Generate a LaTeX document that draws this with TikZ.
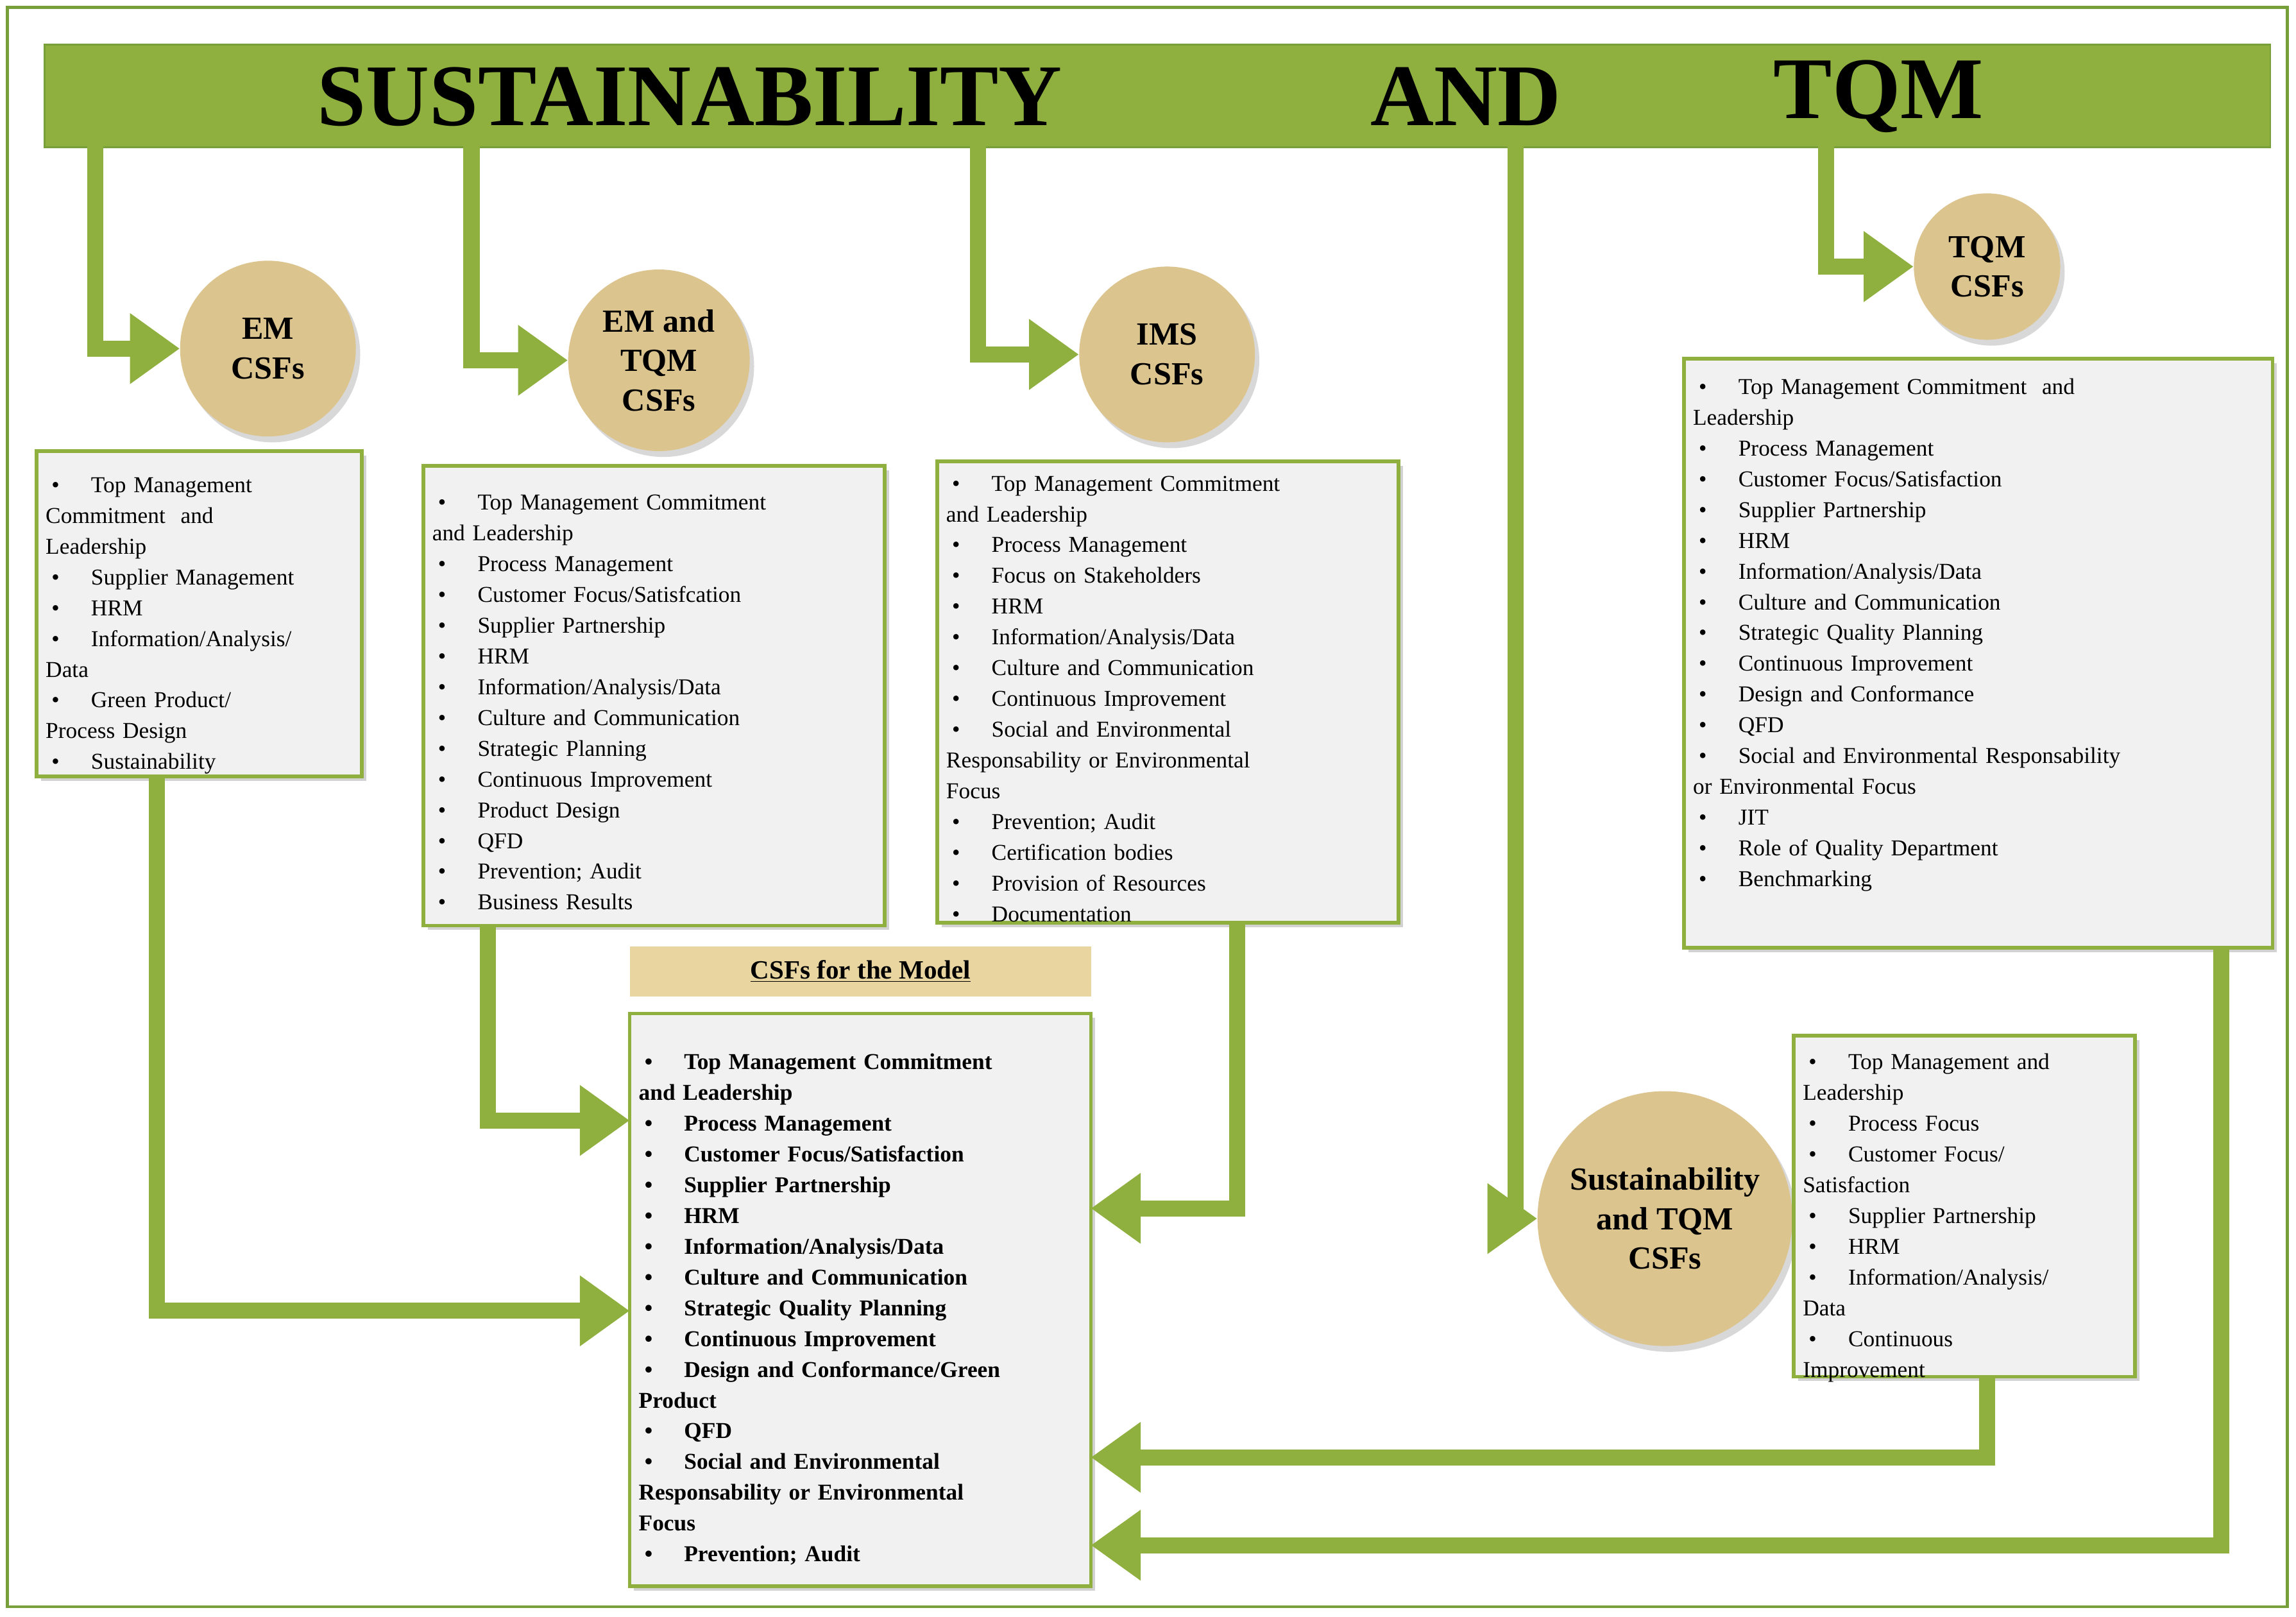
\documentclass[tikz,border=0pt]{standalone}
\usepackage{fontspec}
\setmainfont{Liberation Serif}
\usetikzlibrary{arrows.meta,shadows}
\definecolor{grn}{HTML}{8FB03E}
\definecolor{grnd}{HTML}{77A03A}
\definecolor{tan}{HTML}{DCC48E}
\definecolor{tanl}{HTML}{E8D5A0}
\definecolor{boxf}{HTML}{F1F1F1}
\newcommand{\itm}[1]{\par\noindent\hangindent=31pt\hangafter=1\makebox[31pt][l]{\hspace{4pt}\textbullet}#1}
\tikzset{
 flow/.style={draw=grn,line width=11pt,-{Triangle[length=34pt,width=46pt]}},
 listbox/.style={draw=grn,line width=2.5pt,fill=boxf,drop shadow={opacity=0.35,shadow xshift=3pt,shadow yshift=-3pt}},
 listtxt/.style={anchor=north west,inner sep=0pt,text width=300pt,font=\fontsize{15.5}{21}\selectfont},
 csf/.style={circle,fill=tan,font=\bfseries\fontsize{22}{27}\selectfont,align=center,drop shadow={opacity=0.3,shadow xshift=3pt,shadow yshift=-4pt}},
}
\begin{document}
\begin{tikzpicture}[x=1pt,y=-1pt]
\useasboundingbox (0,0) rectangle (1568,1104);
\fill[white] (0,0) rectangle (1568,1104);
\draw[grnd,line width=2pt] (5,5) rectangle (1562,1097);
\node[fill=grn,minimum width=1520pt,minimum height=70pt,anchor=north west,inner sep=0pt,draw=grnd,line width=1pt] (banner) at (30,30) {};
\node[font=\bfseries\fontsize{60}{60}\selectfont] (t1) at (471,66) {SUSTAINABILITY};
\node[font=\bfseries\fontsize{60}{60}\selectfont] (t2) at (1001,66) {AND};
\node[font=\bfseries\fontsize{60}{60}\selectfont] (t3) at (1283,66) {TQM};
% circles
\node[csf,minimum size=120pt] (em) at (183,238) {EM\\CSFs};
\node[csf,minimum size=124pt] (emtqm) at (450,246) {EM and\\TQM\\CSFs};
\node[csf,minimum size=120pt] (ims) at (797,242) {IMS\\CSFs};
\node[csf,minimum size=100pt] (tqm) at (1357,182) {TQM\\CSFs};
\node[csf,minimum size=174pt] (sus) at (1137,832) {Sustainability\\and TQM\\CSFs};
\coordinate (b1) at (65,100); \coordinate (b2) at (322,100); \coordinate (b3) at (668,100);
\coordinate (b4) at (1035,100); \coordinate (b5) at (1247,100);
\draw[flow] (b1) |- (em.west);
\draw[flow] (b2) |- (emtqm.west);
\draw[flow] (b3) |- (ims.west);
\draw[flow] (b4) |- (sus.west);
\draw[flow] (b5) |- (tqm.west);
% boxes
\draw[listbox] (25,308) rectangle (247,530);
\node[listtxt] (emtx) at (31,315) {\raggedright
\itm{Top Management\\Commitment\ \ and\\Leadership}
\itm{Supplier Management}
\itm{HRM}
\itm{Information/Analysis/\\Data}
\itm{Green Product/\\Process Design}
\itm{Sustainability}\par};
\draw[listbox] (289,318) rectangle (604,632);
\node[listtxt] (etx) at (295,327) {\raggedright
\itm{Top Management Commitment\\and Leadership}
\itm{Process Management}
\itm{Customer Focus/Satisfcation}
\itm{Supplier Partnership}
\itm{HRM}
\itm{Information/Analysis/Data}
\itm{Culture and Communication}
\itm{Strategic Planning}
\itm{Continuous Improvement}
\itm{Product Design}
\itm{QFD}
\itm{Prevention; Audit}
\itm{Business Results}\par};
\draw[listbox] (640,315) rectangle (955,630);
\node[listtxt] (itx) at (646,314) {\raggedright
\itm{Top Management Commitment\\and Leadership}
\itm{Process Management}
\itm{Focus on Stakeholders}
\itm{HRM}
\itm{Information/Analysis/Data}
\itm{Culture and Communication}
\itm{Continuous Improvement}
\itm{Social and Environmental\\Responsability or Environmental\\Focus}
\itm{Prevention; Audit}
\itm{Certification bodies}
\itm{Provision of Resources}
\itm{Documentation}\par};
\draw[listbox] (1150,245) rectangle (1552,647);
\node[listtxt,text width=390pt] (ttx) at (1156,248) {\raggedright
\itm{Top Management Commitment\ \ and\\Leadership}
\itm{Process Management}
\itm{Customer Focus/Satisfaction}
\itm{Supplier Partnership}
\itm{HRM}
\itm{Information/Analysis/Data}
\itm{Culture and Communication}
\itm{Strategic Quality Planning}
\itm{Continuous Improvement}
\itm{Design and Conformance}
\itm{QFD}
\itm{Social and Environmental Responsability\\or Environmental Focus}
\itm{JIT}
\itm{Role of Quality Department}
\itm{Benchmarking}\par};
\draw[listbox] (1225,707) rectangle (1458,940);
\node[listtxt,text width=225pt] (stx) at (1231,709) {\raggedright
\itm{Top Management and\\Leadership}
\itm{Process Focus}
\itm{Customer Focus/\\Satisfaction}
\itm{Supplier Partnership}
\itm{HRM}
\itm{Information/Analysis/\\Data}
\itm{Continuous\\Improvement}\par};
\node[fill=tanl,minimum width=315pt,minimum height=34pt,anchor=north west,inner sep=0pt,font=\bfseries\fontsize{18}{20}\selectfont] (lbl) at (430,646) {\underline{CSFs for the Model}};
\draw[listbox] (430,692) rectangle (745,1083);
\node[listtxt,font=\bfseries\fontsize{15.5}{21}\selectfont] (mtx) at (436,709) {\raggedright
\itm{Top Management Commitment\\and Leadership}
\itm{Process Management}
\itm{Customer Focus/Satisfaction}
\itm{Supplier Partnership}
\itm{HRM}
\itm{Information/Analysis/Data}
\itm{Culture and Communication}
\itm{Strategic Quality Planning}
\itm{Continuous Improvement}
\itm{Design and Conformance/Green\\Product}
\itm{QFD}
\itm{Social and Environmental\\Responsability or Environmental\\Focus}
\itm{Prevention; Audit}\par};
\coordinate (m1) at (430,765); \coordinate (m2) at (430,895);
\coordinate (m3) at (745,825); \coordinate (m4) at (745,995); \coordinate (m5) at (745,1055);
\draw[flow] (333,632) |- (m1);
\draw[flow] (107,530) |- (m2);
\draw[flow] (845,630) |- (m3);
\draw[flow] (1357,940) |- (m4);
\draw[flow] (1517,647) |- (m5);
\end{tikzpicture}
\end{document}
